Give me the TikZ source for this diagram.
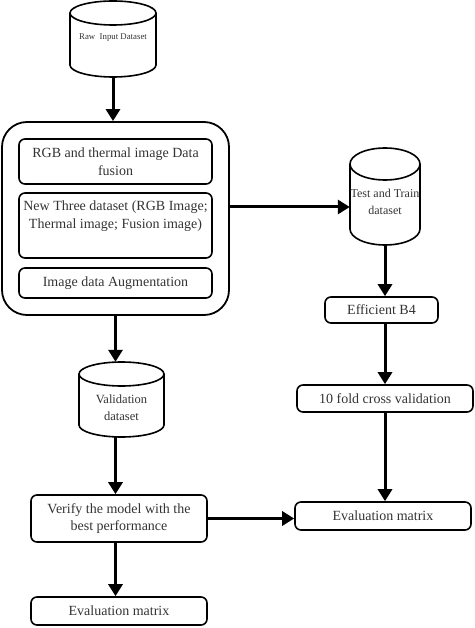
\documentclass[tikz,border=0pt]{standalone}
\usepackage{fontspec}
\setmainfont{Liberation Serif}
\usetikzlibrary{arrows.meta}
\begin{document}
\begin{tikzpicture}[x=1pt,y=-1pt,
 box/.style={draw, line width=1.6pt, rounded corners=6pt, align=center, inner sep=0pt, text=black!80, font=\fontsize{14}{18}\selectfont},
 conn/.style={line width=3pt, -{Triangle[width=14pt,length=12pt]}},
 cyl/.style={line width=1.6pt},
 lbl/.style={align=center, inner sep=0pt, text=black!80}]
\useasboundingbox (0,0) rectangle (474,628);

% Raw input cylinder
\draw[cyl] (70,13) -- (70,65) arc[start angle=180, end angle=0, x radius=43, y radius=12] -- (156,13);
\draw[cyl] (113,13) ellipse[x radius=43, y radius=12];
\node[inner sep=0pt, minimum width=86pt, minimum height=76pt] (raw) at (113,39) {};
\node[lbl, font=\fontsize{8.8}{10}\selectfont] (rawl) at (113,38) {Raw \ Input Dataset};

% Big container
\node[draw, line width=1.8pt, rounded corners=25pt, minimum width=227pt, minimum height=193pt, inner sep=0pt] (big) at (115.5,218.5) {};
\node[box, minimum width=193pt, minimum height=45pt] (b1) at (115.5,161.5) {RGB and thermal image Data\\fusion};
\node[box, minimum width=193pt, minimum height=65pt] (b2) at (115.5,225.5) {};
\node[lbl, font=\fontsize{14}{18}\selectfont] (b2l) at (115.5,216) {New Three dataset (RGB Image;\\Thermal image; Fusion image)};
\node[box, minimum width=193pt, minimum height=30pt] (b3) at (115.5,283) {Image data Augmentation};

% Test and Train cylinder
\draw[cyl] (350,164) -- (350,229) arc[start angle=180, end angle=0, x radius=35, y radius=16] -- (420,164);
\draw[cyl] (385,164) ellipse[x radius=35, y radius=16];
\node[inner sep=0pt, minimum width=70pt, minimum height=97pt] (test) at (385,196.5) {};
\node[lbl, font=\fontsize{12}{17}\selectfont] (testl) at (385,202) {Test and Train\\dataset};

% Right column boxes
\node[box, minimum width=113pt, minimum height=26pt] (eff) at (381.5,310) {Efficient B4};
\node[box, minimum width=176pt, minimum height=27pt] (fold) at (385,398.5) {10 fold cross validation};
\node[box, minimum width=176pt, minimum height=28pt] (evr) at (383,516) {Evaluation matrix};

% Validation cylinder
\draw[cyl] (79,374) -- (79,425) arc[start angle=180, end angle=0, x radius=42.5, y radius=12] -- (164,374);
\draw[cyl] (121.5,374) ellipse[x radius=42.5, y radius=12];
\node[inner sep=0pt, minimum width=85pt, minimum height=75pt] (val) at (121.5,399.5) {};
\node[lbl, font=\fontsize{12.5}{17}\selectfont] (vall) at (121.5,408) {Validation\\dataset};

% Left column boxes
\node[box, minimum width=176pt, minimum height=47pt, font=\fontsize{14}{16.5}\selectfont] (ver) at (119,518.5) {Verify the model with the\\best performance};
\node[box, minimum width=176pt, minimum height=28pt] (evl) at (119,611) {Evaluation matrix};

% Connectors
\coordinate (bj) at (229,207);
\draw[conn] (raw.south) -- (raw.south |- big.north);
\draw[conn] (bj) -- (bj -| test.west);
\draw[conn] (test.south) -- (test.south |- eff.north);
\draw[conn] (test.south |- eff.south) -- (test.south |- fold.north);
\draw[conn] (test.south |- fold.south) -- (test.south |- evr.north);
\draw[conn] (big.south) -- (big.south |- val.north);
\draw[conn] (big.south |- val.south) -- (big.south |- ver.north);
\draw[conn] (big.south |- ver.south) -- (big.south |- evl.north);
\draw[conn] (ver.east) -- (ver.east -| evr.west);
\end{tikzpicture}
\end{document}
